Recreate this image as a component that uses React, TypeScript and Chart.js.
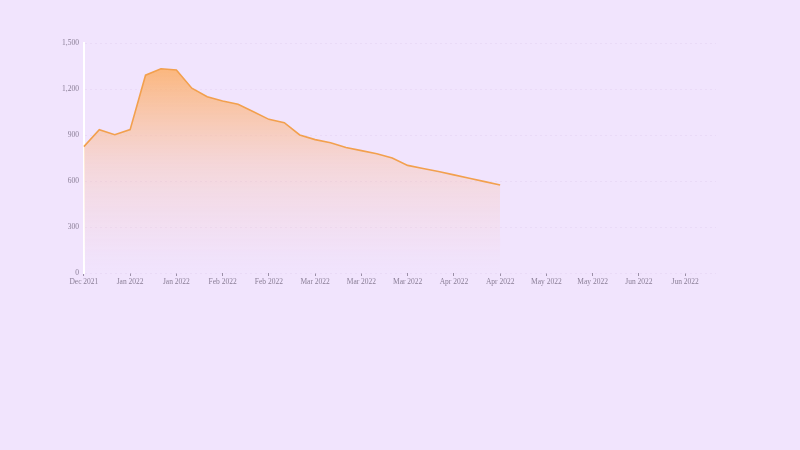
import React, { useEffect, useRef } from 'react';
import { Chart, registerables } from 'chart.js';

Chart.register(...registerables);

const categories: string[] = [
  'Dec 2021', 'Dec 2021', 'Dec 2021',
  'Jan 2022', 'Jan 2022', 'Jan 2022',
  'Jan 2022', 'Jan 2022', 'Feb 2022',
  'Feb 2022', 'Feb 2022', 'Feb 2022',
  'Feb 2022', 'Mar 2022', 'Mar 2022',
  'Mar 2022', 'Mar 2022', 'Mar 2022',
  'Mar 2022', 'Mar 2022', 'Mar 2022',
  'Mar 2022', 'Apr 2022', 'Apr 2022',
  'Apr 2022', 'Apr 2022', 'Apr 2022',
  'Apr 2022', 'May 2022', 'May 2022',
  'May 2022', 'May 2022', 'May 2022',
  'May 2022', 'Jun 2022', 'Jun 2022',
  'Jun 2022', 'Jun 2022', 'Jun 2022',
  'Jun 2022', 'Jun 2022', 'Jun 2022',
];

const values: (number | null)[] = [
  824, 935, 902, 935, 1290, 1332, 1324, 1205, 1150, 1122,
  1100, 1052, 1002, 980, 900, 870, 850, 818, 798, 778,
  750, 702, 682, 662, 640, 618, 596, 574,
];

const yTicks = { min: 0, max: 1500, step: 300 };
const labelEvery = 3;

export default function App() {
  const canvasRef = useRef<HTMLCanvasElement | null>(null);

  useEffect(() => {
    document.body.style.backgroundColor = '#f1e4fd';
    const canvas = canvasRef.current;
    if (!canvas) return;
    const data = categories.map((_, i) => (i < values.length ? values[i] : null));
    const textColor = '#8a7e96';
    const fontFamily = "'Liberation Serif', 'Times New Roman', serif";
    const chart = new Chart(canvas, {
      type: 'line',
      data: {
        labels: categories,
        datasets: [
          {
            data,
            borderColor: '#f2a04e',
            borderWidth: 1.6,
            pointRadius: 0,
            pointHoverRadius: 0,
            tension: 0,
            fill: 'origin',
            spanGaps: false,
            backgroundColor: (ctx: any) => {
              const { chart } = ctx;
              const area = chart.chartArea;
              if (!area) return 'rgba(252,170,90,0.5)';
              const g = chart.ctx.createLinearGradient(0, area.top, 0, area.bottom);
              g.addColorStop(0, 'rgba(253,168,84,0.95)');
              g.addColorStop(0.55, 'rgba(252,190,150,0.32)');
              g.addColorStop(1, 'rgba(252,200,200,0)');
              return g;
            },
          },
        ],
      },
      options: {
        animation: false,
        responsive: true,
        maintainAspectRatio: false,
        layout: { padding: { top: 35, left: 49, right: 76, bottom: 11 } },
        plugins: {
          legend: { display: false },
          tooltip: { enabled: false },
        },
        scales: {
          x: {
            type: 'category',
            offset: false,
            border: { display: false },
            grid: {
              display: true,
              drawOnChartArea: false,
              drawTicks: true,
              tickLength: 3,
              tickColor: (ctx: any) => (ctx.index % labelEvery === 0 ? '#9a8fa6' : 'transparent'),
              color: 'transparent',
            },
            ticks: {
              autoSkip: false,
              maxRotation: 0,
              minRotation: 0,
              padding: 2,
              color: textColor,
              font: { family: fontFamily, size: 7.5 },
              callback: (_v: any, i: number) => (i % labelEvery === 0 ? categories[i] : ''),
            },
          },
          y: {
            min: yTicks.min,
            max: yTicks.max,
            border: { display: true, color: '#ffffff', width: 2, dash: [2, 3] },
            grid: {
              color: 'rgba(228,210,242,0.55)',
              drawTicks: false,
              lineWidth: 1,
            },
            ticks: {
              stepSize: yTicks.step,
              padding: 5,
              color: textColor,
              font: { family: fontFamily, size: 7.5 },
            },
          },
        },
      },
    });
    return () => chart.destroy();
  }, []);

  return (
    <div style={{ position: 'relative', width: '784px', height: '292px' }}>
      <canvas ref={canvasRef} />
    </div>
  );
}
